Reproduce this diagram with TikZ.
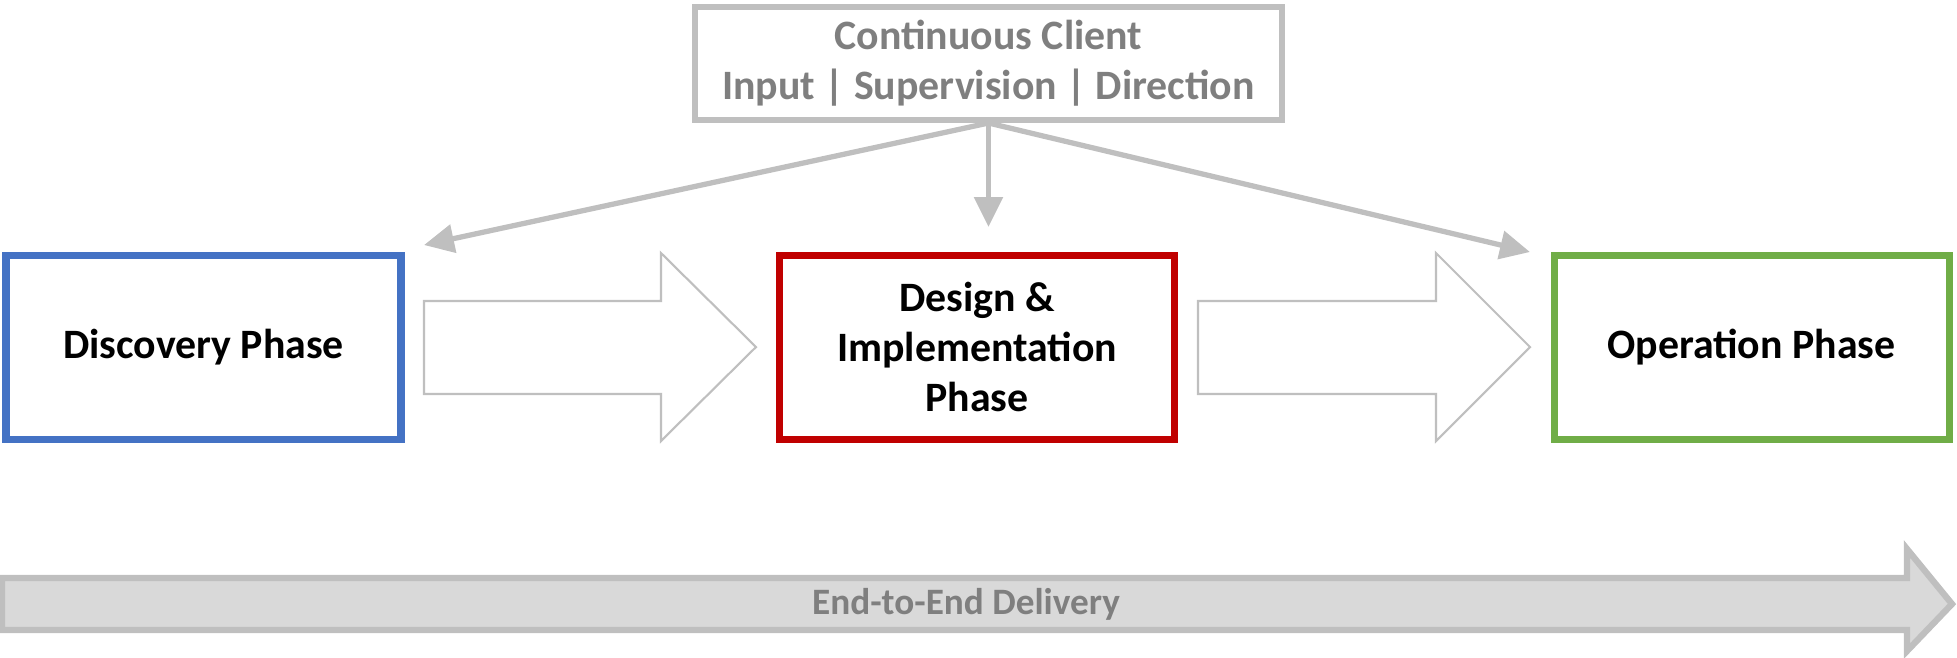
\documentclass[tikz,border=0pt]{standalone}
\usepackage{fontspec}
\setmainfont{Carlito}
\usetikzlibrary{arrows.meta,positioning}

\definecolor{linegray}{HTML}{BFBFBF}
\definecolor{textgray}{HTML}{7F7F7F}
\definecolor{fillgray}{HTML}{D9D9D9}
\definecolor{phaseblue}{HTML}{4472C4}
\definecolor{phasered}{HTML}{C00000}
\definecolor{phasegreen}{HTML}{70AD47}

\tikzset{
	boxfont/.style={font=\bfseries\fontsize{11.9}{14.2}\selectfont},
	phase/.style={boxfont, draw, line width=2pt, minimum width=3.95cm, minimum height=1.84cm, align=center, inner sep=0pt},
	client/.style={boxfont, draw=linegray, line width=1.7pt, text=textgray, minimum width=5.87cm, minimum height=1.13cm, align=center, inner sep=0pt},
	feed/.style={draw=linegray, line width=1.5pt, -{Triangle[length=0.3cm,width=0.28cm]}},
	flow/.style={draw=linegray, line width=0.6pt, fill=white, line join=miter},
	delivery/.style={draw=linegray, line width=1.8pt, fill=fillgray, line join=miter},
}

\begin{document}
\begin{tikzpicture}
		\useasboundingbox (0,0) rectangle (19.57,-6.57);
		% client on top
		\node[client] (cl) at (9.885,-0.635) {Continuous Client\\Input | Supervision | Direction};
		% the three phases
		\node[phase, draw=phaseblue] (disc) at (2.035,-3.47) {Discovery Phase};
		\node[phase, draw=phasered] (impl) at (9.77,-3.47) {Design \&\\Implementation\\Phase};
		\node[phase, draw=phasegreen] (oper) at (17.515,-3.47) {Operation Phase};
		\coordinate (feedL) at (4.24,-2.45);
		\coordinate (feedM) at (9.885,-2.27);
		\coordinate (feedR) at (15.30,-2.52);
		\draw[feed] (cl.south) -- (feedL);
		\draw[feed] (cl.south) -- (feedM);
		\draw[feed] (cl.south) -- (feedR);
		% hollow arrows between phases
		\draw[flow] (4.24,-3.01) -- (6.61,-3.01) -- (6.61,-2.53) -- (7.56,-3.47)
		-- (6.61,-4.41) -- (6.61,-3.94) -- (4.24,-3.94) -- cycle;
		\draw[flow] (11.98,-3.01) -- (14.36,-3.01) -- (14.36,-2.53) -- (15.30,-3.47)
		-- (14.36,-4.41) -- (14.36,-3.94) -- (11.98,-3.94) -- cycle;
		% delivery band
		\draw[delivery] (0.02,-5.78) -- (19.07,-5.78) -- (19.07,-5.49) -- (19.52,-6.04)
		-- (19.07,-6.51) -- (19.07,-6.30) -- (0.02,-6.30) -- cycle;
		\node[text=textgray, font=\bfseries\fontsize{10.6}{12}\selectfont] (e2e) at (9.66,-6.04) {End-to-End Delivery};
	\end{tikzpicture}
\end{document}
